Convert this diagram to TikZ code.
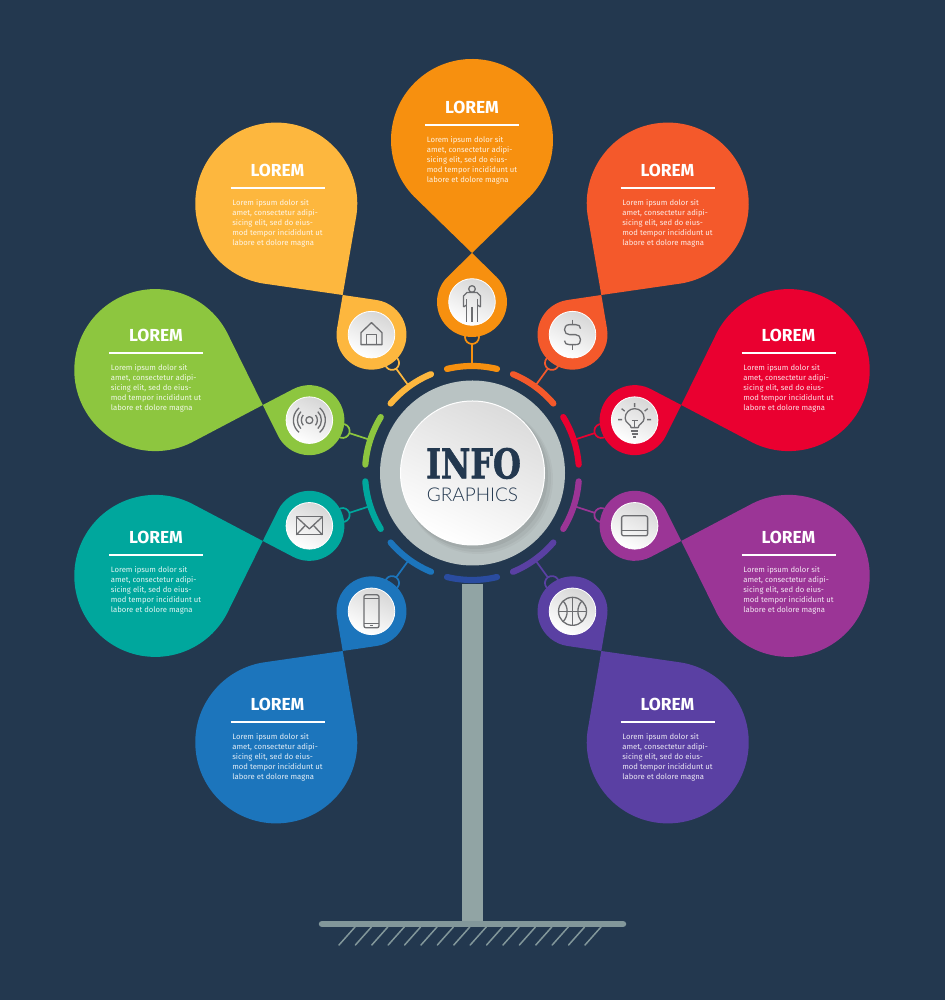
\documentclass[tikz,border=0pt]{standalone}
\usepackage{fontspec}
\setmainfont{Fira Sans}
\newfontfamily\slabfont[FakeBold=1.6]{DejaVu Serif}
\newfontfamily\thinfont{Lato Light}

\definecolor{bgnavy}{HTML}{23384F}
\definecolor{cOrange}{HTML}{F7900F}
\definecolor{cCoral}{HTML}{F4592B}
\definecolor{cRed}{HTML}{EA0030}
\definecolor{cPurple}{HTML}{9B3596}
\definecolor{cViolet}{HTML}{5A40A3}
\definecolor{cNavy}{HTML}{2A4CA0}
\definecolor{cBlue}{HTML}{1C75BC}
\definecolor{cTeal}{HTML}{00A79D}
\definecolor{cGreen}{HTML}{8DC63F}
\definecolor{cYellow}{HTML}{FDB73E}
\definecolor{cHub}{HTML}{B9C3C3}
\definecolor{cPole}{HTML}{91A4A4}
\definecolor{cBase}{HTML}{82979A}
\definecolor{cIcon}{HTML}{6D6E71}

\tikzset{
  arcline/.style={line width=6.2, line cap=round},
  stem/.style={line width=1.7},
  disc/.style={top color=#1, bottom color=white, shading angle=-25},
  iconline/.style={draw=cIcon, line width=1.3, line join=round},
  loremtitle/.style={text=white, inner sep=0, font={\fontsize{17.4}{18}\selectfont\bfseries}},
  loremtext/.style={text=white, text opacity=0.88, inner sep=0, align=left, font={\fontsize{7.7}{10}\selectfont}},
}

% one branch: arc, stem, ring, small drop, big drop (all radial from the hub)
\newcommand{\branch}[3]{
  \begin{scope}[shift={(472,527)}, rotate=#2]
    \draw [arcline, #3] (-13.5:107) arc (-13.5:13.5:107);
    \coordinate (#1-arc) at (107,0);
    \coordinate (#1-ring) at (129,0);
    \coordinate (#1-small) at (171,0);
    \draw [stem, #3] (#1-arc) -- (#1-ring);
    \draw [stem, #3] (136,0) circle (7);
    \fill [#3] (220,0) -- ($(171,0)+(44.4:35)$) arc (44.4:315.6:35) -- cycle;
    \fill [#3] (220,0) -- ($(333,0)+(134.2:81)$) arc (134.2:-134.2:81) -- cycle;
  \end{scope}
  \shade [disc=black!16, draw=white, line width=0.8] (#1-small) circle (23.3);
}

% the words on a big drop
\newcommand{\lorembox}[3]{
  \node [loremtitle] (#1-title) at (#2,#3) {LOREM};
  \draw [white, line width=2] (#2-47,#3-18) -- (#2+47,#3-18);
  \node [loremtext] (#1-text) at (#2,#3-53.5) {Lorem ipsum dolor sit\\amet, consectetur adipi-\\sicing elit, sed do eius-\\mod tempor incididunt ut\\labore et dolore magna};
}

\usetikzlibrary{calc}

\begin{document}
\begin{tikzpicture}[x=1pt,y=1pt]

 \useasboundingbox (0,0) rectangle (945,1000);
 \fill [bgnavy] (0,0) rectangle (945,1000);

 % Pole and ground
 \fill [cPole] (462,78) rectangle (483,416);
 \draw [cBase, line width=6.5, line cap=round] (322,76) -- (623,76);
 \draw [cBase, line width=1.5, line cap=round]
   (339,55) -- (355,73) (355.4,55) -- (371.4,73) (371.8,55) -- (387.8,73) (388.2,55) -- (404.2,73)
   (404.6,55) -- (420.6,73) (421,55) -- (437,73) (437.4,55) -- (453.4,73) (453.8,55) -- (469.8,73)
   (470.2,55) -- (486.2,73) (486.6,55) -- (502.6,73) (503,55) -- (519,73) (519.4,55) -- (535.4,73)
   (535.8,55) -- (551.8,73) (552.2,55) -- (568.2,73) (568.6,55) -- (584.6,73) (585,55) -- (601,73);

 % Hub
 \fill [cHub] (472.5,527) circle (92.5);
 \fill [black, opacity=0.03] (478,521) circle (75);
 \fill [black, opacity=0.04] (477,522) circle (74);
 \fill [black, opacity=0.05] (475,524) circle (73);
 \shade [disc=black!14, draw=white, line width=1] (472.5,527) circle (72);
 \node [inner sep=0, text=bgnavy, font={\fontsize{41}{41}\slabfont\bfseries}] (infoword) at (473.5,536.5) {\scalebox{0.78}[1]{INFO}};
 \node [inner sep=0, text=bgnavy, font={\fontsize{19}{20}\thinfont}] (graphicsword) at (472.5,505.5) {GRAPHICS};

 % Arc with no branch below the hub
 \draw [arcline, cNavy] (-103.5:107) ++(472,527) arc (-103.5:-76.5:107);

 % Branches, clockwise from the top
 \branch{person}{90}{cOrange}
 \branch{money}{54}{cCoral}
 \branch{bulb}{18}{cRed}
 \branch{card}{-18}{cPurple}
 \branch{ball}{-54}{cViolet}
 \branch{phone}{-126}{cBlue}
 \branch{mail}{-162}{cTeal}
 \branch{wave}{162}{cGreen}
 \branch{house}{126}{cYellow}

 % Words
 \lorembox{person}{472}{893}
 \lorembox{money}{667.5}{830}
 \lorembox{bulb}{788.5}{665}
 \lorembox{card}{788.5}{463}
 \lorembox{ball}{667.5}{296}
 \lorembox{phone}{277.5}{296}
 \lorembox{mail}{156}{463}
 \lorembox{wave}{156}{665}
 \lorembox{house}{277.5}{830}

 % Person icon
 \begin{scope}[shift={(person-small)}]
  \draw [iconline] (0,13) circle (3.3);
  \draw [iconline] (-8.5,-5) -- (-8.5,6) -- (-5,9.5) -- (5,9.5) -- (8.5,6) -- (8.5,-5);
  \draw [iconline] (-8.5,-5) -- (-5.5,-3) (8.5,-5) -- (5.5,-3);
  \draw [iconline] (-5.5,3) -- (-5.5,-20) (0,-5) -- (0,-20) (5.5,3) -- (5.5,-20);
 \end{scope}

 % House icon
 \begin{scope}[shift={(house-small)}]
  \draw [iconline] (-10.5,-10) -- (10.5,-10) -- (10.5,2) -- (0,12) -- (-10.5,2) -- cycle;
  \draw [iconline] (-5,-10) -- (-5,0) -- (5,0) -- (5,-10);
 \end{scope}

 % Dollar icon
 \begin{scope}[shift={(money-small)}]
  \draw [iconline] (8,6) .. controls (8,9) and (6,10) .. (3,10) -- (-3,10) .. controls (-7,10) and (-8,7) .. (-8,5)
    .. controls (-8,2) and (-6,0) .. (-3,0) -- (3,0) .. controls (6,0) and (8,-2) .. (8,-5)
    .. controls (8,-8) and (7,-10) .. (3,-10) -- (-3,-10) .. controls (-6,-10) and (-8,-9) .. (-8,-6);
  \draw [iconline] (0,15) -- (0,10) (0,-10) -- (0,-15);
 \end{scope}

 % Bulb icon
 \begin{scope}[shift={(bulb-small)}]
  \draw [iconline] (-3.5,-7.5) .. controls (-3.5,-4) and (-9.5,-3) .. (-9.5,2) arc (180:0:9.5) .. controls (9.5,-3) and (3.5,-4) .. (3.5,-7.5) -- cycle;
  \draw [iconline] (-3,-0.5) -- (3,-0.5) (0,-0.5) -- (0,-7.5);
  \draw [iconline] (-3.5,-11) -- (3.5,-11) (-3,-14) -- (3,-14) (-1.5,-17) -- (1.5,-17);
  \draw [iconline] (0,13) -- (0,17) (10,9) -- (13,11.5) (-10,9) -- (-13,11.5) (12.5,0.5) -- (16.5,0.5) (-12.5,0.5) -- (-16.5,0.5);
 \end{scope}

 % Card icon
 \begin{scope}[shift={(card-small)}]
  \draw [iconline, rounded corners=2] (-13,-10) rectangle (13,10);
  \draw [iconline] (-13,-4.5) -- (13,-4.5);
 \end{scope}

 % Ball icon
 \begin{scope}[shift={(ball-small)}]
  \draw [iconline] (0,0) circle (14);
  \draw [iconline] (-14,0) -- (14,0) (0,-14) -- (0,14);
  \draw [iconline] (-9.5,10.3) .. controls (-4,5) and (-4,-5) .. (-9.5,-10.3);
  \draw [iconline] (9.5,10.3) .. controls (4,5) and (4,-5) .. (9.5,-10.3);
 \end{scope}

 % Phone icon
 \begin{scope}[shift={(phone-small)}]
  \draw [iconline, rounded corners=2] (-7.5,-16.5) rectangle (7.5,16.5);
  \draw [iconline] (-7.5,12.5) -- (7.5,12.5) (-7.5,-12.5) -- (7.5,-12.5) (-1.5,-14.5) -- (1.5,-14.5);
 \end{scope}

 % Envelope icon
 \begin{scope}[shift={(mail-small)}]
  \draw [iconline] (-13,-9) rectangle (13,9);
  \draw [iconline] (-13,9) -- (0,-3) -- (13,9);
  \draw [iconline] (-13,-9) -- (-4,0.5) (13,-9) -- (4,0.5);
 \end{scope}

 % Signal icon
 \begin{scope}[shift={(wave-small)}]
  \draw [iconline] (0,0) circle (3.5);
  \draw [iconline] (-40:8) arc (-40:40:8) (-45:12) arc (-45:45:12) (-50:16) arc (-50:50:16);
  \draw [iconline] (140:8) arc (140:220:8) (135:12) arc (135:225:12) (130:16) arc (130:230:16);
 \end{scope}

\end{tikzpicture}
\end{document}
